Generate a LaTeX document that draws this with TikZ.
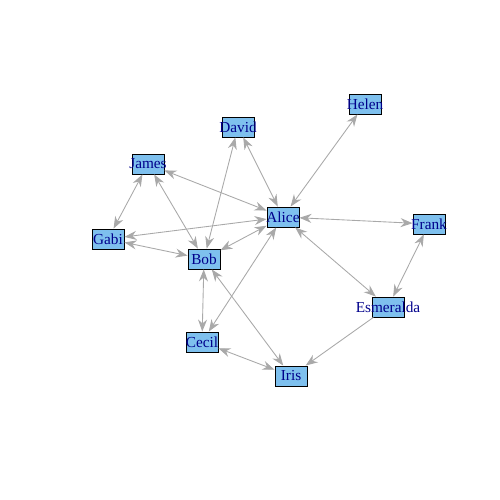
\documentclass[tikz,border=0pt]{standalone}
\usepackage{fontspec}
\setmainfont{Liberation Serif}
\usetikzlibrary{arrows.meta}

\definecolor{vfill}{RGB}{126,192,238}
\definecolor{vtext}{RGB}{0,0,139}
\definecolor{edgegray}{RGB}{169,169,169}

\begin{document}
\begin{tikzpicture}[
    vbox/.style={draw=black, line width=0.5pt, fill=vfill, rectangle,
      inner sep=0pt, minimum width=0.64cm, minimum height=0.4cm,
      text=vtext, font=\fontsize{8.7}{10}\selectfont},
    link/.style={draw=edgegray, line width=0.5pt,
      {Stealth[length=0.24cm,width=0.18cm]}-{Stealth[length=0.24cm,width=0.18cm]}},
    onelink/.style={draw=edgegray, line width=0.5pt,
      -{Stealth[length=0.24cm,width=0.18cm]}}]
  \useasboundingbox (0,0) rectangle (10,10);
  % vertices (fixed size boxes, labels may spill over)
  \node[vbox] (helen) at (7.30,7.92) {\makebox[0pt]{Helen}};
  \node[vbox] (david) at (4.76,7.46) {\makebox[0pt]{David}};
  \node[vbox] (james) at (2.96,6.72) {\makebox[0pt]{James}};
  \node[vbox] (alice) at (5.66,5.66) {\makebox[0pt]{Alice}};
  \node[vbox] (frank) at (8.58,5.52) {\makebox[0pt]{Frank}};
  \node[vbox] (gabi)  at (2.16,5.22) {\makebox[0pt]{Gabi}};
  \node[vbox] (bob)   at (4.08,4.82) {\makebox[0pt]{Bob}};
  \node[vbox] (esme)  at (7.76,3.86) {\makebox[0pt]{Esmeralda}};
  \node[vbox] (cecil) at (4.04,3.16) {\makebox[0pt]{Cecil}};
  \node[vbox] (iris)  at (5.82,2.48) {\makebox[0pt]{Iris}};
  % edges, ending on the box borders
  \path[link] (alice) -- (helen);
  \path[link] (alice) -- (david);
  \path[link] (bob) -- (david);
  \path[link] (alice) -- (james);
  \path[link] (gabi) -- (james);
  \path[link] (bob) -- (james);
  \path[link] (alice) -- (gabi);
  \path[link] (gabi) -- (bob);
  \path[link] (bob) -- (alice);
  \path[link] (cecil) -- (alice);
  \path[link] (alice) -- (frank);
  \path[link] (alice) -- (esme);
  \path[link] (esme) -- (frank);
  \path[onelink] (esme) -- (iris);
  \path[link] (bob) -- (cecil);
  \path[link] (bob) -- (iris);
  \path[link] (cecil) -- (iris);
\end{tikzpicture}
\end{document}
